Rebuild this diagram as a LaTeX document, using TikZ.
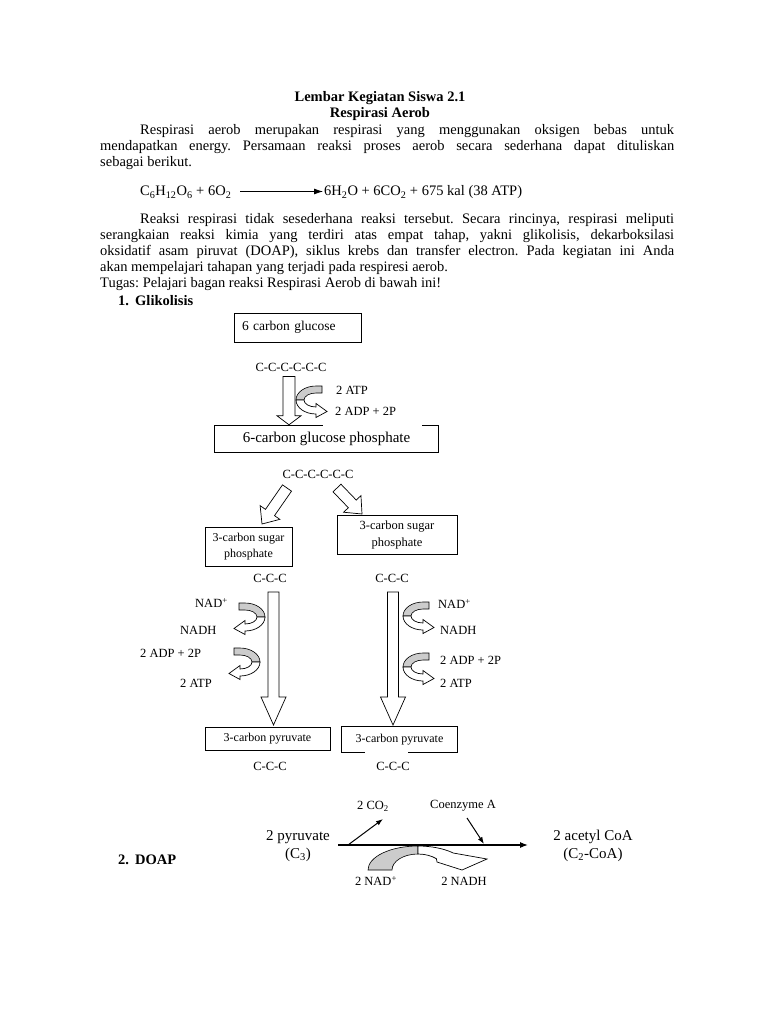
\documentclass[tikz,border=0pt]{standalone}
\usepackage{fontspec}
\setmainfont{Liberation Serif}
\usetikzlibrary{calc,arrows.meta}
\frenchspacing

\newcommand\uturnarrow[3]{%
\begin{scope}[shift={(#1,#2)},xscale=#3]
 \filldraw[gband] (-6,-14) -- (0,-14) arc[start angle=-90,end angle=0,x radius=20,y radius=14]
   -- (12,0) arc[start angle=0,end angle=-90,x radius=12,y radius=7] -- (-6,-7) -- cycle;
 \filldraw[hollow] (20,0) arc[start angle=0,end angle=90,x radius=20,y radius=14]
   -- (0,17.5) -- (-11,11.5) -- (0,3.5) -- (0,7) arc[start angle=90,end angle=0,x radius=12,y radius=7] -- cycle;
\end{scope}}

\newcommand\hollowarrow[5]{%
 \coordinate (hb) at ($(#2)!#5!(#1)$);
 \filldraw[hollow] ($(#1)!#3!90:(#2)$) -- ($(hb)!#3!90:(#2)$) -- ($(hb)!#4!90:(#2)$) -- (#2)
   -- ($(hb)!#4!-90:(#2)$) -- ($(hb)!#3!-90:(#2)$) -- ($(#1)!#3!-90:(#2)$) -- cycle;}

\begin{document}
\begin{tikzpicture}[x=1pt,y=-1pt,
  body/.style={font=\fontsize{14.5}{16}\selectfont, inner sep=0pt},
  bodybf/.style={font=\bfseries\fontsize{14.5}{16}\selectfont, inner sep=0pt},
  lbl/.style={font=\fontsize{12.5}{14}\selectfont, inner sep=0pt},
  boxtxt/.style={font=\fontsize{12}{16}\selectfont, inner sep=0pt, align=center},
  box/.style={draw, line width=0.8pt},
  gband/.style={fill=gray!40, draw=black, line width=0.6pt},
  hollow/.style={fill=white, draw=black, line width=0.7pt},
  thinarrow/.style={line width=1pt, -{Latex[length=7pt,width=5pt]}}]
\useasboundingbox (0,0) rectangle (768,1024);
\fill[white] (0,0) rectangle (768,1024);

% ---------- text ----------
\node[bodybf, align=center] (title) at (380,106.5) {Lembar Kegiatan Siswa 2.1\\Respirasi Aerob};

\node[body, text width=574pt, align=justify, anchor=north west] (p1) at (100,124.5)
 {\parindent=0pt\hspace*{40pt}Respirasi aerob merupakan respirasi yang menggunakan oksigen bebas untuk\linebreak
  mendapatkan energy. Persamaan reaksi proses aerob secara sederhana dapat dituliskan\linebreak
  sebagai berikut.};

\node[body, anchor=base west] (eqL) at (140,196) {C\textsubscript{6}H\textsubscript{12}O\textsubscript{6} + 6O\textsubscript{2}};
\node[body, anchor=base west] (eqR) at (324,196) {6H\textsubscript{2}O + 6CO\textsubscript{2} + 675 kal (38 ATP)};
\coordinate (eqa) at (240,191.5);
\coordinate (eqb) at (323,191.5);
\draw[line width=0.8pt, -{Latex[length=9pt,width=6pt]}] (eqa) -- (eqb);

\node[body, text width=574pt, align=justify, anchor=north west] (p2) at (100,213.5)
 {\parindent=0pt\hspace*{40pt}Reaksi respirasi tidak sesederhana reaksi tersebut. Secara rincinya, respirasi meliputi\linebreak
  serangkaian reaksi kimia yang terdiri atas empat tahap, yakni glikolisis, dekarboksilasi\linebreak
  oksidatif asam piruvat (DOAP), siklus krebs dan transfer electron. Pada kegiatan ini Anda\linebreak
  akan mempelajari tahapan yang terjadi pada respiresi aerob.\par
  Tugas: Pelajari bagan reaksi Respirasi Aerob di bawah ini!};

\node[bodybf, anchor=west] (n1) at (118,301) {1.};
\node[bodybf, anchor=west] (glik) at (135,301) {Glikolisis};

% ---------- glycolysis ----------
\node[box, font=\fontsize{13.5}{16}\selectfont, text width=111pt, align=left, inner sep=8pt,
      minimum height=29pt] (g6) at (297.5,327.5) {6 carbon glucose};
\node[lbl] (c6a) at (291,367) {C-C-C-C-C-C};

\node[inner sep=0pt, minimum width=223pt, minimum height=26pt, font=\fontsize{15}{18}\selectfont] (gp) at (326.5,439) {6-carbon glucose phosphate};
\draw[line width=0.8pt] ([xshift=108pt]gp.north west) -- (gp.north west) -- (gp.south west) -- (gp.south east) -- (gp.north east) -- ([xshift=-16pt]gp.north east);

\coordinate (a1s) at ($(c6a.south)+(-2,5)$);
\coordinate (a1e) at ($(gp.north -| a1s)+(0,-1)$);
\hollowarrow{a1s}{a1e}{6pt}{12pt}{9pt}

\uturnarrow{316}{400}{-1}
\node[lbl, anchor=west] (atp1) at (336,390) {2 ATP};
\node[lbl, anchor=west] (adp1) at (335,411) {2 ADP + 2P};

\node[lbl] (c6b) at (318,474) {C-C-C-C-C-C};

\node[box, boxtxt, minimum width=87pt, minimum height=39pt] (sL) at (248.5,546.5) {3-carbon sugar\\phosphate};
\node[box, boxtxt, font=\fontsize{12.5}{17}\selectfont, minimum width=120pt, minimum height=39pt] (sR) at (397,534.5) {3-carbon sugar\\phosphate};

\coordinate (dLs) at (287,488);
\coordinate (dLe) at (262,524);
\hollowarrow{dLs}{dLe}{5.5pt}{12pt}{14pt}
\coordinate (dRs) at (337,488);
\coordinate (dRe) at (362,514);
\hollowarrow{dRs}{dRe}{5.5pt}{12pt}{14pt}

\node[lbl] (cL) at (270,578) {C-C-C};
\node[lbl] (cR) at (392,578) {C-C-C};

\node[box, boxtxt, minimum width=125pt, minimum height=23pt] (pyL) at (267.5,738.5) {3-carbon pyruvate};
\node[inner sep=0pt, font=\fontsize{12}{14}\selectfont, minimum width=115pt, minimum height=25pt] (pyR) at (399.5,739.5) {3-carbon pyruvate};
\draw[line width=0.8pt] ([xshift=23pt]pyR.south west) -- (pyR.south west) -- (pyR.north west) -- (pyR.north east) -- (pyR.south east) -- ([xshift=-49pt]pyR.south east);

\coordinate (vLs) at (273.5,592);
\coordinate (vLe) at (273.5,725);
\hollowarrow{vLs}{vLe}{5.5pt}{12.5pt}{28pt}
\coordinate (vRs) at (393,592);
\coordinate (vRe) at (393,725);
\hollowarrow{vRs}{vRe}{5.5pt}{12.5pt}{28pt}

\uturnarrow{245}{617}{1}
\uturnarrow{240}{662}{1}
\uturnarrow{423}{616}{-1}
\uturnarrow{423}{667}{-1}

\node[lbl, anchor=west] (nadL) at (195,603) {NAD\textsuperscript{+}};
\node[lbl, anchor=west] (nadhL) at (180,630) {NADH};
\node[lbl, anchor=west] (adpL) at (140,653) {2 ADP + 2P};
\node[lbl, anchor=west] (atpL) at (180,683) {2 ATP};
\node[lbl, anchor=west] (nadR) at (438,604) {NAD\textsuperscript{+}};
\node[lbl, anchor=west] (nadhR) at (440,630) {NADH};
\node[lbl, anchor=west] (adpR) at (440,660) {2 ADP + 2P};
\node[lbl, anchor=west] (atpR) at (440,683) {2 ATP};

\node[lbl] (cL2) at (270,766) {C-C-C};
\node[lbl] (cR2) at (393,766) {C-C-C};

% ---------- DOAP ----------
\node[bodybf, anchor=west] (n2) at (118,860) {2.};
\node[bodybf, anchor=west] (doap) at (135,860) {DOAP};

\node[inner sep=0pt, align=center, font=\fontsize{15}{18}\selectfont] (pyr) at (298,846) {2 pyruvate\\(C\textsubscript{3})};
\node[inner sep=0pt, align=center, font=\fontsize{15}{18}\selectfont] (acet) at (593,846) {2 acetyl CoA\\(C\textsubscript{2}-CoA)};

\coordinate (mS) at (338,845);
\coordinate (mE) at (528,845);
\draw[line width=1.2pt, -{Latex[length=8pt,width=6pt]}] (mS) -- (mE);

\node[lbl] (co2) at (373,806) {2 CO\textsubscript{2}};
\node[lbl] (coa) at (463,806) {Coenzyme A};
\coordinate (co2s) at (348,845);
\coordinate (co2e) at (383,819);
\draw[thinarrow] (co2s) -- (co2e);
\coordinate (coas) at (467,818);
\coordinate (coae) at (484,844);
\draw[thinarrow] (coas) -- (coae);

\filldraw[gband] (368,870) arc[start angle=180,end angle=270,x radius=50,y radius=24]
  -- (418,854) arc[start angle=270,end angle=180,x radius=26,y radius=16] -- cycle;
\filldraw[hollow] (418,846) arc[start angle=270,end angle=315,x radius=50,y radius=24]
  -- (487,859) -- (462,870) -- (437,862) -- (436.4,858.7)
  arc[start angle=315,end angle=270,x radius=26,y radius=16] -- cycle;

\node[lbl] (nad2) at (376,881) {2 NAD\textsuperscript{+}};
\node[lbl] (nadh2) at (464,881) {2 NADH};
\end{tikzpicture}
\end{document}
